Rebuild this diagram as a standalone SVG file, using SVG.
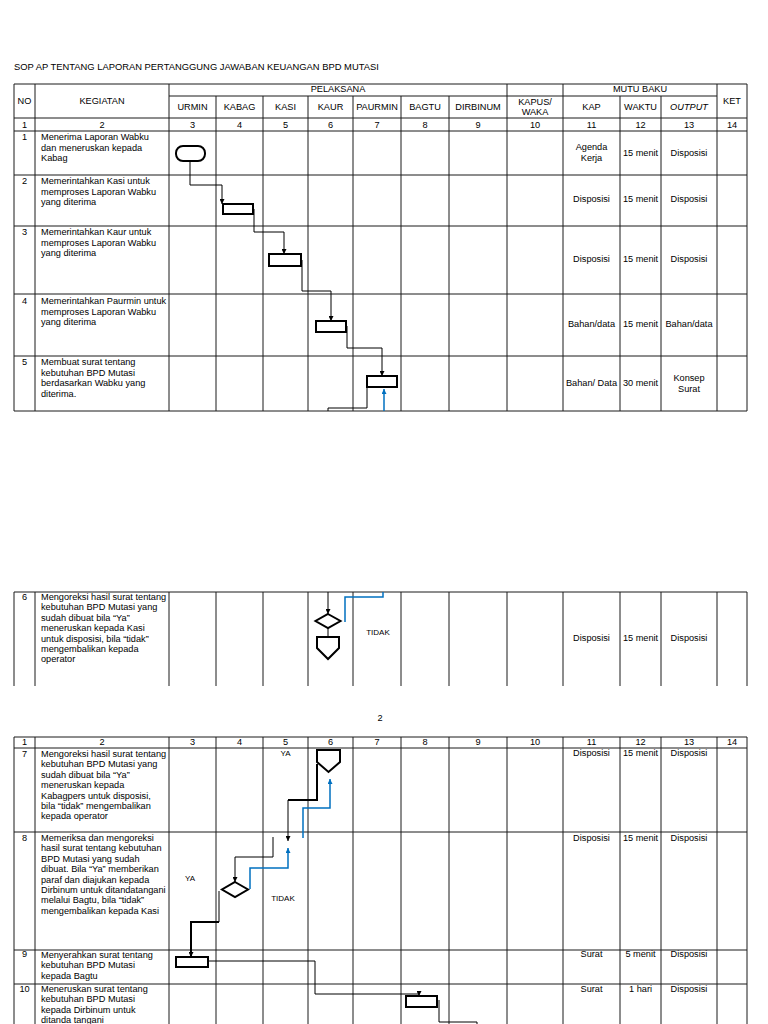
<svg xmlns="http://www.w3.org/2000/svg" width="768" height="1024" viewBox="0 0 768 1024">
<style>
text{font-family:"Liberation Sans",Arial,sans-serif;font-size:9.2px;fill:#000}
.c{text-anchor:middle}
.t{font-size:9.4px}
.s{font-size:8px}
.g line{stroke:#1a1a1a;stroke-width:1}
.sh{fill:none;stroke:#000;stroke-width:2}
.k{fill:none;stroke:#000;stroke-width:1}
.kb{fill:none;stroke:#000;stroke-width:2}
.b{fill:none;stroke:#0070C0;stroke-width:1.5}
</style>
<defs>
<marker id="ah" viewBox="0 0 6 6" refX="6" refY="3" markerWidth="5" markerHeight="5" orient="auto" markerUnits="userSpaceOnUse"><path d="M0,0 L6,3 L0,6 z" fill="#000"/></marker>
<marker id="ahb" viewBox="0 0 6 6" refX="6" refY="3" markerWidth="5" markerHeight="5" orient="auto" markerUnits="userSpaceOnUse"><path d="M0,0 L6,3 L0,6 z" fill="#0070C0"/></marker>
</defs>
<rect width="768" height="1024" fill="#fff"/>
<text class="t" x="14" y="69.5">SOP AP TENTANG LAPORAN PERTANGGUNG JAWABAN KEUANGAN BPD MUTASI</text>

<g id="table1" class="g">
<line x1="14" y1="84" x2="747" y2="84"/>
<line x1="169" y1="96" x2="717" y2="96"/>
<line x1="14" y1="118" x2="747" y2="118"/>
<line x1="14" y1="131" x2="747" y2="131"/>
<line x1="14" y1="175" x2="747" y2="175"/>
<line x1="14" y1="226" x2="747" y2="226"/>
<line x1="14" y1="294" x2="747" y2="294"/>
<line x1="14" y1="356" x2="747" y2="356"/>
<line x1="14" y1="411" x2="747" y2="411"/>
<line x1="14" y1="84" x2="14" y2="411"/>
<line x1="35" y1="84" x2="35" y2="411"/>
<line x1="169" y1="84" x2="169" y2="411"/>
<line x1="216" y1="96" x2="216" y2="411"/>
<line x1="263" y1="96" x2="263" y2="411"/>
<line x1="308" y1="96" x2="308" y2="411"/>
<line x1="353" y1="96" x2="353" y2="411"/>
<line x1="401" y1="96" x2="401" y2="411"/>
<line x1="449" y1="96" x2="449" y2="411"/>
<line x1="507" y1="84" x2="507" y2="411"/>
<line x1="563" y1="84" x2="563" y2="411"/>
<line x1="620" y1="96" x2="620" y2="411"/>
<line x1="661" y1="96" x2="661" y2="411"/>
<line x1="717" y1="84" x2="717" y2="411"/>
<line x1="747" y1="84" x2="747" y2="411"/>
</g>
<g id="header1">
<text class="c" x="24.5" y="104">NO</text>
<text class="c" x="102" y="104">KEGIATAN</text>
<text class="c" x="338" y="92">PELAKSANA</text>
<text class="c" x="640" y="92">MUTU BAKU</text>
<text class="c" x="732" y="104">KET</text>
<text class="c" x="192.5" y="110">URMIN</text>
<text class="c" x="239.5" y="110">KABAG</text>
<text class="c" x="285.5" y="110">KASI</text>
<text class="c" x="330.5" y="110">KAUR</text>
<text class="c" x="377" y="110">PAURMIN</text>
<text class="c" x="425" y="110">BAGTU</text>
<text class="c" x="478" y="110">DIRBINUM</text>
<text class="c" x="535" y="105">KAPUS/</text>
<text class="c" x="535" y="115">WAKA</text>
<text class="c" x="591.5" y="110">KAP</text>
<text class="c" x="640.5" y="110">WAKTU</text>
<text class="c" x="689" y="110" font-style="italic">OUTPUT</text>
<text class="c" x="24.5" y="127.5">1</text>
<text class="c" x="102" y="127.5">2</text>
<text class="c" x="192.5" y="127.5">3</text>
<text class="c" x="239.5" y="127.5">4</text>
<text class="c" x="285.5" y="127.5">5</text>
<text class="c" x="330.5" y="127.5">6</text>
<text class="c" x="377" y="127.5">7</text>
<text class="c" x="425" y="127.5">8</text>
<text class="c" x="478" y="127.5">9</text>
<text class="c" x="535" y="127.5">10</text>
<text class="c" x="591.5" y="127.5">11</text>
<text class="c" x="640.5" y="127.5">12</text>
<text class="c" x="689" y="127.5">13</text>
<text class="c" x="732" y="127.5">14</text>
</g>

<g id="row1-text">
<text class="c" x="24.5" y="140">1</text>
<text x="41" y="140">Menerima Laporan Wabku</text>
<text x="41" y="150.5">dan meneruskan kepada</text>
<text x="41" y="161">Kabag</text>
<text class="c" x="591.5" y="150">Agenda</text>
<text class="c" x="591.5" y="161">Kerja</text>
<text class="c" x="640.5" y="156">15 menit</text>
<text class="c" x="689" y="156">Disposisi</text>
</g>
<g id="row2-text">
<text class="c" x="24.5" y="184">2</text>
<text x="41" y="184">Memerintahkan Kasi untuk</text>
<text x="41" y="194.5">memproses Laporan Wabku</text>
<text x="41" y="205">yang diterima</text>
<text class="c" x="591.5" y="202">Disposisi</text>
<text class="c" x="640.5" y="202">15 menit</text>
<text class="c" x="689" y="202">Disposisi</text>
</g>
<g id="row3-text">
<text class="c" x="24.5" y="235">3</text>
<text x="41" y="235">Memerintahkan Kaur untuk</text>
<text x="41" y="245.5">memproses Laporan Wabku</text>
<text x="41" y="256">yang diterima</text>
<text class="c" x="591.5" y="262">Disposisi</text>
<text class="c" x="640.5" y="262">15 menit</text>
<text class="c" x="689" y="262">Disposisi</text>
</g>
<g id="row4-text">
<text class="c" x="24.5" y="304">4</text>
<text x="41" y="304">Memerintahkan Paurmin untuk</text>
<text x="41" y="314.5">memproses Laporan Wabku</text>
<text x="41" y="325">yang diterima</text>
<text class="c" x="591.5" y="327">Bahan/data</text>
<text class="c" x="640.5" y="327">15 menit</text>
<text class="c" x="689" y="327">Bahan/data</text>
</g>
<g id="row5-text">
<text class="c" x="24.5" y="365">5</text>
<text x="41" y="365">Membuat surat tentang</text>
<text x="41" y="375.5">kebutuhan BPD Mutasi</text>
<text x="41" y="386">berdasarkan Wabku yang</text>
<text x="41" y="396.5">diterima.</text>
<text class="c" x="591.5" y="386">Bahan/ Data</text>
<text class="c" x="640.5" y="386">30 menit</text>
<text class="c" x="689" y="381">Konsep</text>
<text class="c" x="689" y="392">Surat</text>
</g>

<g id="table1b" class="g">
<line x1="14" y1="592" x2="747" y2="592"/>
<line x1="14" y1="592" x2="14" y2="686"/>
<line x1="35" y1="592" x2="35" y2="686"/>
<line x1="169" y1="592" x2="169" y2="686"/>
<line x1="216" y1="592" x2="216" y2="686"/>
<line x1="263" y1="592" x2="263" y2="686"/>
<line x1="308" y1="592" x2="308" y2="686"/>
<line x1="353" y1="592" x2="353" y2="686"/>
<line x1="401" y1="592" x2="401" y2="686"/>
<line x1="449" y1="592" x2="449" y2="686"/>
<line x1="507" y1="592" x2="507" y2="686"/>
<line x1="563" y1="592" x2="563" y2="686"/>
<line x1="620" y1="592" x2="620" y2="686"/>
<line x1="661" y1="592" x2="661" y2="686"/>
<line x1="717" y1="592" x2="717" y2="686"/>
<line x1="747" y1="592" x2="747" y2="686"/>
</g>
<g id="row6-text">
<text class="c" x="24.5" y="600">6</text>
<text x="41" y="600">Mengoreksi hasil surat tentang</text>
<text x="41" y="610.4">kebutuhan BPD Mutasi yang</text>
<text x="41" y="620.8">sudah dibuat bila “Ya”</text>
<text x="41" y="631.2">meneruskan kepada Kasi</text>
<text x="41" y="641.6">untuk disposisi, bila “tidak”</text>
<text x="41" y="652">mengembalikan kepada</text>
<text x="41" y="662.4">operator</text>
<text class="c s" x="378" y="635">TIDAK</text>
<text class="c" x="591.5" y="641">Disposisi</text>
<text class="c" x="640.5" y="641">15 menit</text>
<text class="c" x="689" y="641">Disposisi</text>
</g>

<text class="c" x="380" y="721">2</text>

<g id="table2" class="g">
<line x1="14" y1="737" x2="747" y2="737"/>
<line x1="14" y1="748" x2="747" y2="748"/>
<line x1="14" y1="832" x2="747" y2="832"/>
<line x1="14" y1="950" x2="747" y2="950"/>
<line x1="14" y1="984" x2="747" y2="984"/>
<line x1="14" y1="737" x2="14" y2="1024"/>
<line x1="35" y1="737" x2="35" y2="1024"/>
<line x1="169" y1="737" x2="169" y2="1024"/>
<line x1="216" y1="737" x2="216" y2="1024"/>
<line x1="263" y1="737" x2="263" y2="1024"/>
<line x1="308" y1="737" x2="308" y2="1024"/>
<line x1="353" y1="737" x2="353" y2="1024"/>
<line x1="401" y1="737" x2="401" y2="1024"/>
<line x1="449" y1="737" x2="449" y2="1024"/>
<line x1="507" y1="737" x2="507" y2="1024"/>
<line x1="563" y1="737" x2="563" y2="1024"/>
<line x1="620" y1="737" x2="620" y2="1024"/>
<line x1="661" y1="737" x2="661" y2="1024"/>
<line x1="717" y1="737" x2="717" y2="1024"/>
<line x1="747" y1="737" x2="747" y2="1024"/>
</g>
<g id="header2">
<text class="c" x="24.5" y="745">1</text>
<text class="c" x="102" y="745">2</text>
<text class="c" x="192.5" y="745">3</text>
<text class="c" x="239.5" y="745">4</text>
<text class="c" x="285.5" y="745">5</text>
<text class="c" x="330.5" y="745">6</text>
<text class="c" x="377" y="745">7</text>
<text class="c" x="425" y="745">8</text>
<text class="c" x="478" y="745">9</text>
<text class="c" x="535" y="745">10</text>
<text class="c" x="591.5" y="745">11</text>
<text class="c" x="640.5" y="745">12</text>
<text class="c" x="689" y="745">13</text>
<text class="c" x="732" y="745">14</text>
</g>
<g id="row7-text">
<text class="c" x="24.5" y="757">7</text>
<text x="41" y="757">Mengoreksi hasil surat tentang</text>
<text x="41" y="767.4">kebutuhan BPD Mutasi yang</text>
<text x="41" y="777.8">sudah dibuat bila “Ya”</text>
<text x="41" y="788.2">meneruskan kepada</text>
<text x="41" y="798.6">Kabagpers untuk disposisi,</text>
<text x="41" y="809">bila “tidak” mengembalikan</text>
<text x="41" y="819.4">kepada operator</text>
<text class="c s" x="285.5" y="756">YA</text>
<text class="c" x="591.5" y="756">Disposisi</text>
<text class="c" x="640.5" y="756">15 menit</text>
<text class="c" x="689" y="756">Disposisi</text>
</g>
<g id="row8-text">
<text class="c" x="24.5" y="841">8</text>
<text x="41" y="841">Memeriksa dan mengoreksi</text>
<text x="41" y="851.4">hasil surat tentang kebutuhan</text>
<text x="41" y="861.8">BPD Mutasi yang sudah</text>
<text x="41" y="872.2">dibuat. Bila “Ya” memberikan</text>
<text x="41" y="882.6">paraf dan diajukan kepada</text>
<text x="41" y="893">Dirbinum untuk ditandatangani</text>
<text x="41" y="903.4">melalui Bagtu, bila “tidak”</text>
<text x="41" y="913.8">mengembalikan kepada Kasi</text>
<text class="c s" x="190" y="881">YA</text>
<text class="c s" x="283" y="901">TIDAK</text>
<text class="c" x="591.5" y="841">Disposisi</text>
<text class="c" x="640.5" y="841">15 menit</text>
<text class="c" x="689" y="841">Disposisi</text>
</g>
<g id="row9-text">
<text class="c" x="24.5" y="957">9</text>
<text x="41" y="958">Menyerahkan surat tentang</text>
<text x="41" y="968.4">kebutuhan BPD Mutasi</text>
<text x="41" y="978.8">kepada Bagtu</text>
<text class="c" x="591.5" y="957">Surat</text>
<text class="c" x="640.5" y="957">5 menit</text>
<text class="c" x="689" y="957">Disposisi</text>
</g>
<g id="row10-text">
<text class="c" x="24.5" y="992">10</text>
<text x="41" y="992">Meneruskan surat tentang</text>
<text x="41" y="1002.4">kebutuhan BPD Mutasi</text>
<text x="41" y="1012.8">kepada Dirbinum untuk</text>
<text x="41" y="1023.2">ditanda tangani</text>
<text class="c" x="591.5" y="992">Surat</text>
<text class="c" x="640.5" y="992">1 hari</text>
<text class="c" x="689" y="992">Disposisi</text>
</g>

<g id="node-r1-start"><rect class="sh" x="176" y="146" width="29" height="15" rx="7"/></g>
<g id="node-r2-kabag"><rect class="sh" x="223" y="204" width="30" height="10"/></g>
<g id="node-r3-kasi"><rect class="sh" x="269" y="254" width="32" height="12"/></g>
<g id="node-r4-kaur"><rect class="sh" x="316" y="321" width="30" height="11"/></g>
<g id="node-r5-paurmin"><rect class="sh" x="367" y="376" width="30" height="11"/></g>
<g id="node-r6-decision"><polygon class="sh" points="328,614 340.5,621 328,628 315.5,621"/></g>
<g id="node-r6-offpage"><path class="sh" d="M317,637 H339 V648 L328,659 L317,648 Z"/></g>
<g id="node-r7-offpage"><path class="sh" d="M317,750 H340 V762 L328.5,772 L317,762 Z"/></g>
<g id="node-r8-decision"><polygon class="sh" points="235,882 248,889.5 235,897 222,889.5"/></g>
<g id="node-r9-urmin"><rect class="sh" x="176" y="957" width="32" height="10"/></g>
<g id="node-r10-bagtu"><rect class="sh" x="406" y="996" width="31" height="11"/></g>

<g id="connectors">
<path class="k" d="M190,161 V185 H222 V204" marker-end="url(#ah)"/>
<path class="k" d="M254,209 V232 H284 V254" marker-end="url(#ah)"/>
<path class="k" d="M302,260 V291 H331 V321" marker-end="url(#ah)"/>
<path class="k" d="M347,326 V348 H382 V376" marker-end="url(#ah)"/>
<path class="k" d="M367,383 V408 H328 V411"/>
<path class="b" d="M384,411 V389" marker-end="url(#ahb)"/>
<path class="k" d="M328,592 V614" marker-end="url(#ah)"/>
<path class="k" d="M328,628 V637"/>
<path class="b" d="M345,622 V597 H383 V592"/>
<path class="kb" d="M317,764 V800 H288"/>
<path class="k" d="M288,800 V841" marker-end="url(#ah)"/>
<path class="b" d="M303,838 V808 H330 V779" marker-end="url(#ahb)"/>
<path class="k" d="M273,837 V857 H235 V882" marker-end="url(#ah)"/>
<path class="b" d="M250,889 V868 H288 V848" marker-end="url(#ahb)"/>
<path class="k" d="M219,891 V922"/>
<path class="kb" d="M219,922 H191 V957" marker-end="url(#ah)"/>
<path class="k" d="M208,961 H315 V994 H419 V996" marker-end="url(#ah)"/>
<path class="k" d="M439,1000 V1022 H477 V1024"/>
</g>
</svg>
